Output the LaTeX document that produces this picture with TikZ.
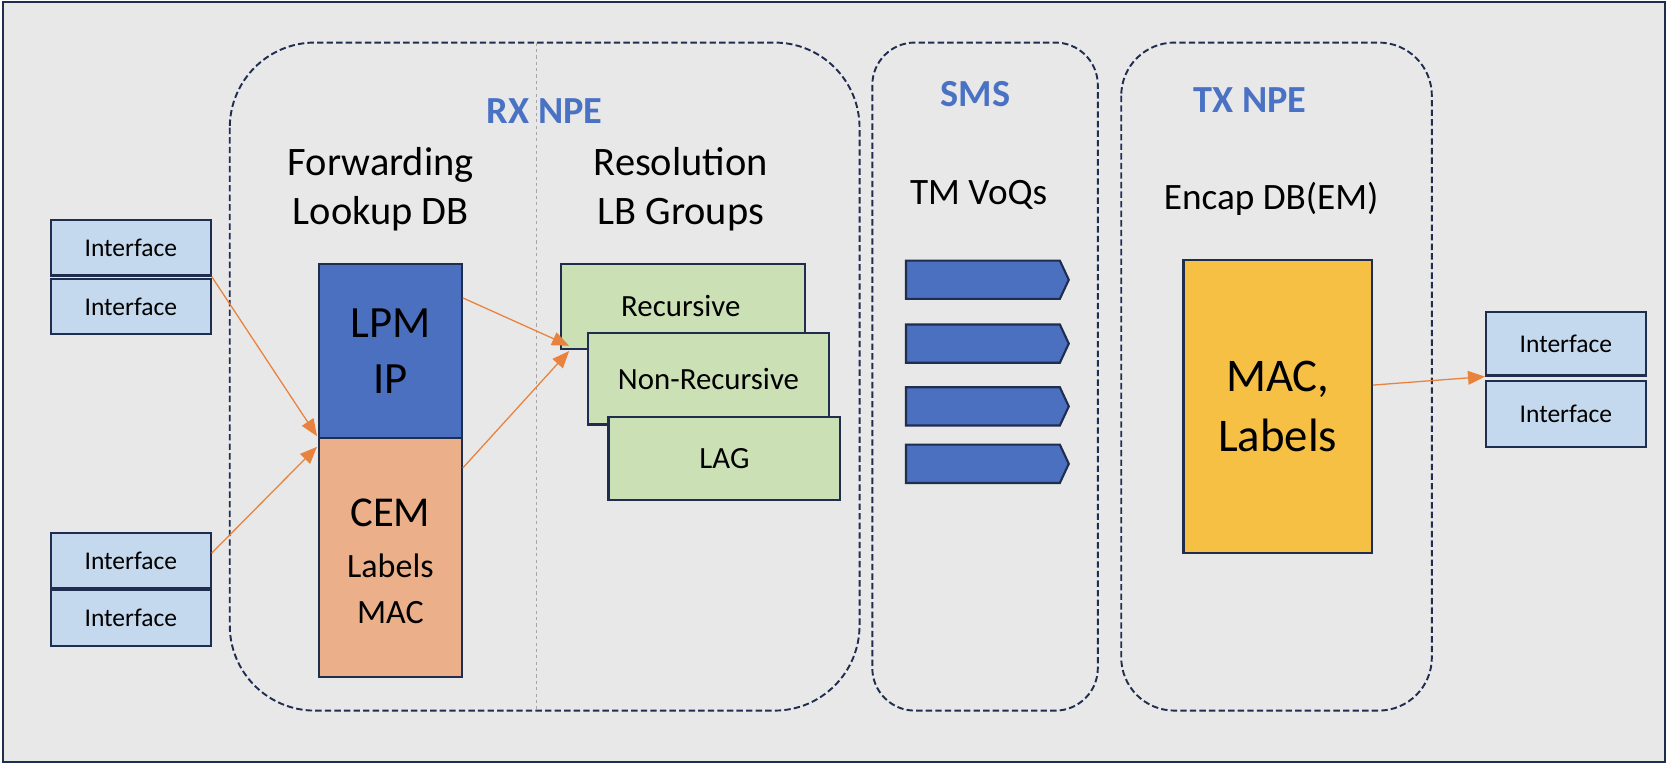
\documentclass[tikz,border=0pt]{standalone}
\usepackage{fontspec}
\setmainfont{Carlito}
\usetikzlibrary{shapes.symbols,arrows.meta}
\definecolor{bg}{HTML}{E8E8E8}
\definecolor{navy}{HTML}{1F2D4F}
\definecolor{iblue}{HTML}{C5D9EE}
\definecolor{mblue}{HTML}{4A70BF}
\definecolor{salmon}{HTML}{EBB08A}
\definecolor{lgreen}{HTML}{CCE0B5}
\definecolor{ygold}{HTML}{F5C043}
\definecolor{ttl}{HTML}{4A72C4}
\definecolor{org}{HTML}{E8823C}
\newcommand{\fs}[1]{\fontsize{#1}{1.5\dimexpr #1pt\relax}\selectfont}
\begin{document}
\begin{tikzpicture}[x=1pt,y=-1pt,
 iface/.style={draw=navy,line width=2pt,fill=iblue,font=\fs{24}},
 blk/.style={draw=navy,line width=2pt},
 grp/.style={draw=navy,line width=1.8pt,dash pattern=on 6pt off 3pt},
 ttl/.style={text=ttl,font=\bfseries\fs{36}},
 hdr/.style={font=\fontsize{38}{46}\selectfont,align=center},
 arr/.style={org,line width=1.2pt,-{Triangle[length=16pt,width=13pt]}}]
\useasboundingbox (0,0) rectangle (1568,718);
\draw[navy,line width=2pt,fill=bg] (3,2) rectangle (1565,716);
% groups
\draw[grp] (216,40) [rounded corners=80pt] rectangle (808,668);
\draw[gray!70,dashed,line width=0.8pt] (504,40) -- (504,668);
\draw[grp] (820,40) [rounded corners=40pt] rectangle (1032,668);
\draw[grp] (1054,40) [rounded corners=50pt] rectangle (1346,668);
\node[ttl] (trx) at (512,104) {RX NPE};
\node[ttl] (tsms) at (917,88) {SMS};
\node[ttl] (ttx) at (1175,94) {TX NPE};
\node[hdr] (hf) at (358,178) {Forwarding\\Lookup DB};
\node[hdr] (hr) at (640,178) {Resolution\\LB Groups};
\node[font=\fs{35}] (hv) at (920,183) {TM VoQs};
\node[font=\fs{35}] (he) at (1195,187) {Encap DB(EM)};
% interfaces
\node[iface,minimum width=150pt,minimum height=52pt] (i1) at (123,233) {Interface};
\node[iface,minimum width=150pt,minimum height=52pt] (i2) at (123,288) {Interface};
\node[iface,minimum width=150pt,minimum height=52pt] (i3) at (123,527) {Interface};
\node[iface,minimum width=150pt,minimum height=52pt] (i4) at (123,581) {Interface};
\node[iface,minimum width=150pt,minimum height=60pt] (o1) at (1472,323) {Interface};
\node[iface,minimum width=150pt,minimum height=62pt] (o2) at (1472,389) {Interface};
% lookup
\node[blk,fill=mblue,minimum width=134pt,minimum height=164pt,font=\fontsize{42}{52}\selectfont,align=center] (lpm) at (367,330) {LPM\\IP};
\node[blk,fill=salmon,minimum width=134pt,minimum height=224pt] (cem) at (367,524) {};
\node[font=\fs{40}] (cemt) at (367,482) {CEM};
\node[font=\fs{32}] (cml) at (367,532) {Labels};
\node[font=\fs{32}] (cmm) at (367,576) {MAC};
% resolution
\node[blk,fill=lgreen,minimum width=230pt,minimum height=80pt] (rec) at (642,288) {};
\node[font=\fs{29}] (rect) at (640,288) {Recursive};
\node[blk,fill=lgreen,minimum width=226pt,minimum height=86pt,font=\fs{29}] (nrec) at (666,356) {Non-Recursive};
\node[blk,fill=lgreen,minimum width=218pt,minimum height=78pt,font=\fs{29}] (lag) at (681,431) {LAG};
% VoQs
\foreach \n/\y in {q1/263,q2/323,q3/382,q4/436}{
 \node[blk,fill=mblue,signal,signal to=east,signal pointer angle=130,minimum width=153pt,minimum height=36pt,inner sep=0pt] (\n) at (924,\y) {};
}
% encap
\node[blk,fill=ygold,minimum width=177pt,minimum height=275pt,font=\fontsize{44}{56}\selectfont,align=center] (mac) at (1201,382) {MAC,\\Labels};
% arrows
\coordinate (a1) at (298,410);
\coordinate (a2) at (298,420);
\coordinate (r1) at (535,325);
\coordinate (r2) at (535,330);
\draw[arr] (i1.south east) -- (a1);
\draw[arr] (i3.north east) ++(0,20) -- (a2);
\draw[arr] (lpm.east |- 0,280) -- (r1);
\draw[arr] (cem.east |- 0,440) -- (r2);
\draw[arr] (mac.east |- 0,362) -- (o1.south west);
\end{tikzpicture}
\end{document}
